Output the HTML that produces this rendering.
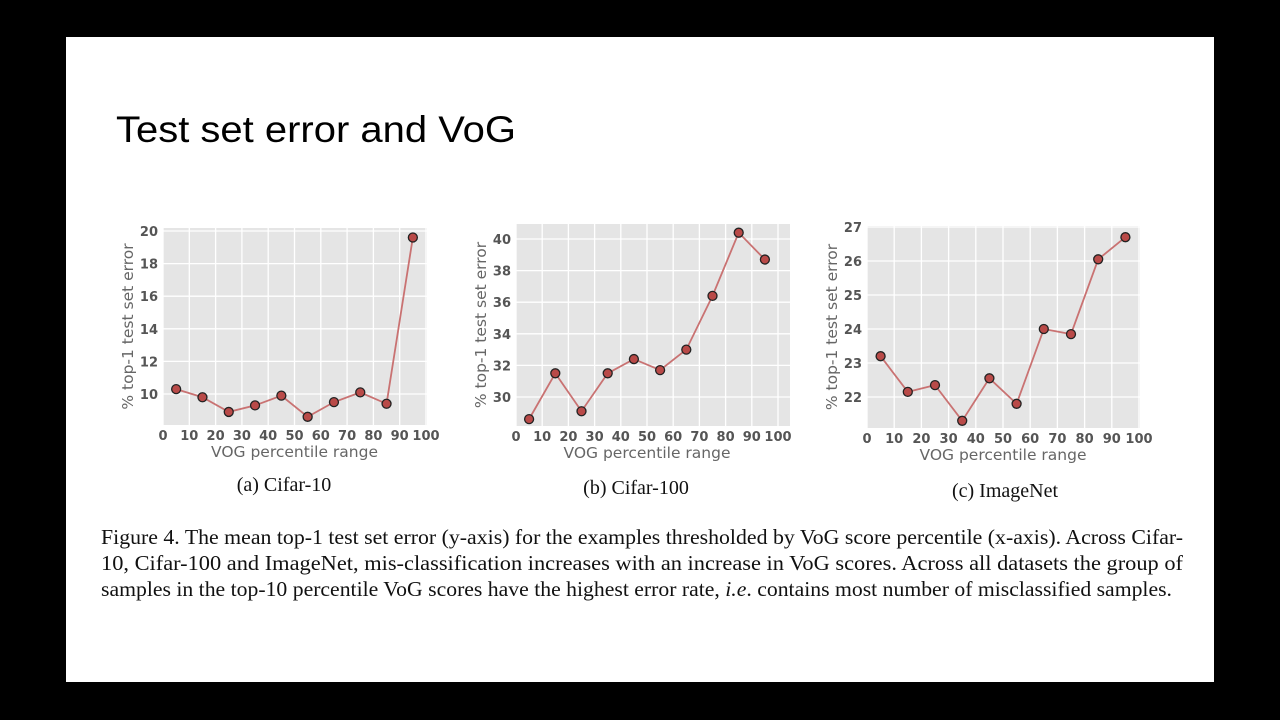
<!DOCTYPE html>
<html><head><meta charset="utf-8"><style>
html,body{margin:0;padding:0;background:#000;}
svg{display:block;}
</style></head><body>
<svg id="root" width="1280" height="720" xmlns="http://www.w3.org/2000/svg">
<rect x="0" y="0" width="1280" height="720" fill="#000"/>
<rect x="66" y="37" width="1148" height="645" fill="#fff"/>
<text x="116" y="142" font-family="Liberation Sans, sans-serif" font-size="37" fill="#000" textLength="400" lengthAdjust="spacingAndGlyphs">Test set error and VoG</text>
<g id="charts"></g>
<g font-family="Liberation Serif, serif" font-size="21" fill="#111">
<text x="101" y="544" textLength="1082" lengthAdjust="spacingAndGlyphs">Figure 4. The mean top-1 test set error (y-axis) for the examples thresholded by VoG score percentile (x-axis). Across Cifar-</text>
<text x="101" y="570" textLength="1082" lengthAdjust="spacingAndGlyphs">10, Cifar-100 and ImageNet, mis-classification increases with an increase in VoG scores.  Across all datasets the group of</text>
<text x="101" y="596" textLength="1071" lengthAdjust="spacingAndGlyphs">samples in the top-10 percentile VoG scores have the highest error rate, <tspan font-style="italic">i.e</tspan>. contains most number of misclassified samples.</text>
</g>
</svg>
<script>
const xCategories = [5,15,25,35,45,55,65,75,85,95];
const xTicks = [0,10,20,30,40,50,60,70,80,90,100];
const cifar10Values = [10.3,9.8,8.9,9.3,9.9,8.6,9.5,10.1,9.4,19.6];
const cifar100Values = [28.6,31.5,29.1,31.5,32.4,31.7,33.0,36.4,40.4,38.7];
const imagenetValues = [23.2,22.15,22.35,21.3,22.55,21.8,24.0,23.85,26.05,26.7];
const cifar10Ticks = [10,12,14,16,18,20];
const cifar100Ticks = [30,32,34,36,38,40];
const imagenetTicks = [22,23,24,25,26,27];

const NS='http://www.w3.org/2000/svg';
const root=document.getElementById('charts');
function mk(tag,attrs,parent){const e=document.createElementNS(NS,tag);for(const k in attrs)e.setAttribute(k,attrs[k]);parent.appendChild(e);return e;}

function chart(cfg, values, yTicks){
  const g=mk('g',{},root);
  
  
  const xs=v=>cfg.x0+(v-0)*(cfg.x100-cfg.x0)/100;
  const ys=v=>cfg.yA+(v-cfg.vA)*(cfg.yB-cfg.yA)/(cfg.vB-cfg.vA);
  const bg=mk('rect',{x:cfg.left,y:cfg.top,width:cfg.right-cfg.left,height:cfg.bottom-cfg.top,fill:'#e5e5e5'},g);
  
  
  xTicks.forEach(t=>{const x=xs(t);
    const l=mk('line',{x1:x,x2:x,y1:cfg.top,y2:cfg.bottom,stroke:'#fff','stroke-width':1.3},g);
    
    
    const tx=mk('text',{x:x,y:cfg.bottom+15,'text-anchor':'middle','font-family':'DejaVu Sans, sans-serif','font-size':13,'font-weight':'bold',fill:'#555'},g);
    tx.textContent=t;
    
    
  });
  yTicks.forEach(t=>{const y=ys(t);
    const l=mk('line',{x1:cfg.left,x2:cfg.right,y1:y,y2:y,stroke:'#fff','stroke-width':1.3},g);
    
    
    const tx=mk('text',{x:cfg.left-5,y:y+5,'text-anchor':'end','font-family':'DejaVu Sans, sans-serif','font-size':13,'font-weight':'bold',fill:'#555'},g);
    tx.textContent=t;
    
    
  });
  const pts=values.map((v,i)=>xs(xCategories[i])+','+ys(v)).join(' ');
  const pl=mk('polyline',{points:pts,fill:'none',stroke:'#c97272','stroke-width':1.8},g);
  
  
  values.forEach((v,i)=>{
    const c=mk('circle',{cx:xs(xCategories[i]),cy:ys(v),r:4.5,fill:'#b94a48',stroke:'#222','stroke-width':1.3},g);
    
    
  });
  const xt=mk('text',{x:(xs(0)+xs(100))/2,y:cfg.bottom+32,'text-anchor':'middle','font-family':'DejaVu Sans, sans-serif','font-size':15.5,fill:'#666'},g);
  xt.textContent='VOG percentile range';
  
  
  const cy=(cfg.top+cfg.bottom)/2;
  const yt=mk('text',{x:cfg.ylabX,y:cy,'text-anchor':'middle','font-family':'DejaVu Sans, sans-serif','font-size':15.5,fill:'#666',transform:'rotate(-90 '+cfg.ylabX+' '+cy+')'},g);
  yt.textContent='% top-1 test set error';
  
  
  const st=mk('text',{x:cfg.subX,y:cfg.subY,'text-anchor':'middle','font-family':'Liberation Serif, serif','font-size':20,fill:'#111'},g);
  st.textContent=cfg.sub;
  
  
}
chart({name:'chart-cifar10',left:163,right:427,top:228,bottom:425,x0:163,x100:426,yA:394,vA:10,yB:231,vB:20,ylabX:133,sub:'(a) Cifar-10',subX:284,subY:491},cifar10Values,cifar10Ticks);
chart({name:'chart-cifar100',left:516,right:790,top:224,bottom:426,x0:516,x100:778,yA:397,vA:30,yB:239,vB:40,ylabX:486,sub:'(b) Cifar-100',subX:636,subY:494},cifar100Values,cifar100Ticks);
chart({name:'chart-imagenet',left:867,right:1140,top:226,bottom:428,x0:867,x100:1139,yA:397,vA:22,yB:227,vB:27,ylabX:837,sub:'(c) ImageNet',subX:1005,subY:497},imagenetValues,imagenetTicks);
</script>
</body></html>
